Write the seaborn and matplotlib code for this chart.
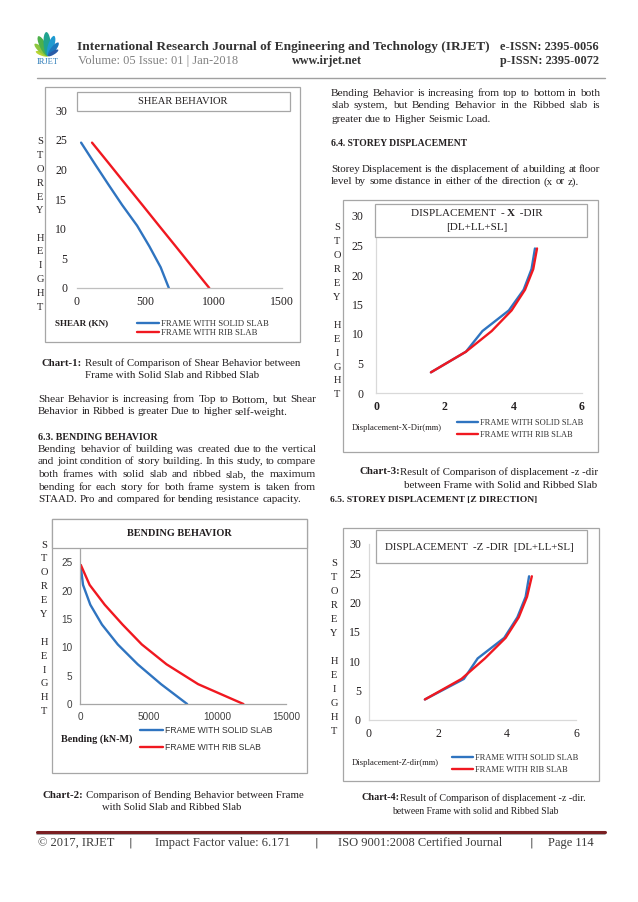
import seaborn as sns
import matplotlib.pyplot as plt
import numpy as np
import pandas as pd
from matplotlib.patches import Rectangle, Ellipse
from matplotlib.lines import Line2D

W, H = 638, 902

# values (storey height in m)
storey_height = [0, 3.5, 7, 10.5, 14, 17.5, 21, 24.5]
shear_solid = [672, 612, 530, 440, 330, 228, 128, 30]
shear_rib = [968, 845, 723, 600, 478, 355, 233, 110]

bending_solid = [7800, 5900, 4200, 2750, 1600, 750, 220, 40]
bending_rib = [11900, 8600, 6300, 4500, 3100, 1800, 700, 60]

disp_height = [3.5, 7, 10.5, 14, 17.5, 21, 24.5]
disp_x_solid = [1.6, 2.62, 3.1, 3.87, 4.3, 4.53, 4.63]
disp_x_rib = [1.6, 2.62, 3.37, 3.95, 4.34, 4.58, 4.69]
disp_z_solid = [1.62, 2.75, 3.15, 3.92, 4.3, 4.54, 4.64]
disp_z_rib = [1.62, 2.68, 3.36, 3.96, 4.34, 4.58, 4.72]

series_names = ["FRAME WITH SOLID SLAB", "FRAME WITH RIB SLAB"]
shear_ticks = [0, 500, 1000, 1500]
bending_ticks = [0, 5000, 10000, 15000]
disp_ticks = [0, 2, 4, 6]
height_ticks = [0, 5, 10, 15, 20, 25, 30]

BLUE = "#2F74C0"
RED = "#F01820"
INK = "#231F20"
GREY = "#A6A6A6"
SERIF = "Liberation Serif"
SANS = "Liberation Sans"

sns.set_style("white")
plt.rcParams["font.family"] = [SERIF, "DejaVu Serif"]

fig = plt.figure(figsize=(W / 100, H / 100), dpi=100, facecolor="white")
renderer = fig.canvas.get_renderer()


def fx(x):
    return x / W


def fy(y):
    return 1 - y / H


def wid(t):
    return t.get_window_extent(renderer).width


def space_w(size):
    a = fig.text(0, 0, "x x", fontsize=size, family=SERIF)
    b = fig.text(0, 0, "xx", fontsize=size, family=SERIF)
    s = wid(a) - wid(b)
    a.remove()
    b.remove()
    return s


def runs(x, y, parts, size, ha="left", width=None, color=INK, gap=True):
    texts = [fig.text(0, fy(y), s, fontsize=size, fontweight=wt, family=SERIF,
                      color=color, va="center") for s, wt in parts]
    sp = space_w(size) if gap else 0
    widths = [wid(t) for t in texts]
    total = sum(widths) + sp * (len(texts) - 1)
    if width:
        k = width / total
        for t in texts:
            t.set_fontsize(size * k)
        widths = [w * k for w in widths]
        sp *= k
        total = width
    start = {"left": x, "center": x - total / 2, "right": x - total}[ha]
    for t, w in zip(texts, widths):
        t.set_x(fx(start))
        start += w + sp
    return texts


def justify(x0, x1, y, line, size, last=False):
    words = line.split()
    for _ in range(10):
        texts = [fig.text(0, fy(y), w, fontsize=size, family=SERIF, color=INK,
                          va="center") for w in words]
        widths = [wid(t) for t in texts]
        sp = space_w(size)
        g = sp if last else (x1 - x0 - sum(widths)) / (len(words) - 1)
        if g >= 0.75 * sp:
            break
        for t in texts:
            t.remove()
        size *= 0.98
    pos = x0
    for t, w in zip(texts, widths):
        t.set_x(fx(pos))
        pos += w + g


def add_rect(x0, y0, x1, y1, ec=GREY, fc="none", lw=0.9):
    fig.add_artist(Rectangle((fx(x0), fy(y1)), (x1 - x0) / W, (y1 - y0) / H,
                             transform=fig.transFigure, ec=ec, fc=fc, lw=lw))


def add_axes_px(x0, y0, x1, y1):
    ax = fig.add_axes([fx(x0), fy(y1), (x1 - x0) / W, (y1 - y0) / H])
    ax.patch.set_alpha(0)
    return ax


def plot_pair(ax, solid, rib, heights, lw=1.7):
    df = pd.DataFrame({
        "value": list(solid) + list(rib),
        "height": list(heights) * 2,
        "frame": [series_names[0]] * len(heights) + [series_names[1]] * len(heights),
    })
    sns.lineplot(data=df, x="value", y="height", hue="frame", palette=[BLUE, RED],
                 sort=False, estimator=None, lw=lw, ax=ax, legend=False)
    ax.set_xlabel("")
    ax.set_ylabel("")


def style_axes(ax, xlim, ylim, xticks, yticks, size, family, xpad, ypad,
               xweight="normal", left=True, color=INK, spine="#BFBFBF"):
    ax.set_xlim(*xlim)
    ax.set_ylim(*ylim)
    ax.set_xticks(xticks)
    ax.set_yticks(yticks)
    ax.tick_params(axis="x", length=0, pad=xpad, labelsize=size, colors=color)
    ax.tick_params(axis="y", length=0, pad=ypad, labelsize=size, colors=color)
    plt.setp(ax.get_xticklabels(), family=family, fontweight=xweight)
    plt.setp(ax.get_yticklabels(), family=family)
    for s in ["top", "right"]:
        ax.spines[s].set_visible(False)
    ax.spines["left"].set_visible(left)
    ax.spines["left"].set_color(spine)
    ax.spines["bottom"].set_color(spine)
    ax.spines["left"].set_linewidth(0.9)
    ax.spines["bottom"].set_linewidth(0.9)
    ax.grid(False)


def storey_letters(x, y_top, step, size=7.5):
    for i, ch in enumerate("STOREY HEIGHT"):
        if ch != " ":
            fig.text(fx(x), fy(y_top + i * step), ch, ha="center", va="center",
                     family=SERIF, fontsize=size, color=INK)


def add_legend(ax, x, y_mid, size, spacing, family, hl=2.5):
    fig.legend(ax.get_lines()[:2], series_names, loc="center left",
               bbox_to_anchor=(fx(x), fy(y_mid)), frameon=False, borderpad=0,
               borderaxespad=0, handlelength=hl, handletextpad=0.25,
               labelspacing=spacing, prop={"family": family, "size": size},
               labelcolor="#333333")


# ---------------- header ----------------
logo = fig.add_axes([fx(32), fy(59), 34 / W, 27 / H])
logo.set_xlim(0, 34)
logo.set_ylim(0, 27)
logo.axis("off")
leaf_angles = [160, 138, 116, 94, 73, 52, 31]
leaf_len = [13, 18, 22, 24, 21, 17, 12]
leaf_cols = ["#B8D432", "#8DC63F", "#4DB04A", "#1FA38F", "#1E9AD0", "#1B78BE", "#2A5CA8"]
for a, L, c in zip(leaf_angles, leaf_len, leaf_cols):
    r = np.radians(a)
    cx, cy = 16 + np.cos(r) * L / 2, 3 + np.sin(r) * L / 2
    logo.add_patch(Ellipse((cx, cy), L, L * 0.3, angle=a, color=c, lw=0))
fig.text(fx(48), fy(61.5), "IRJET", ha="center", va="center", family=SERIF,
         fontsize=6, color="#2A7AB8")

runs(77, 47, [("International Research Journal of Engineering and Technology (IRJET)", "bold")],
     10, width=413, color="#333333")
runs(500, 47, [("e-ISSN: 2395-0056", "bold")], 8, width=98, color="#333333")
runs(78, 61, [("Volume: 05 Issue: 01 | Jan-2018", "normal")], 8, width=160, color="#808080")
runs(292, 61, [("www.irjet.net", "bold")], 8, width=70, color="#333333")
runs(500, 61, [("p-ISSN: 2395-0072", "bold")], 8, width=98, color="#333333")
fig.add_artist(Line2D([fx(37), fx(605)], [fy(78), fy(78)], transform=fig.transFigure,
                      color="#A0A0A0", lw=1.0))

# ---------------- chart 1 : shear ----------------
add_rect(45, 87, 300, 342)
ax1 = add_axes_px(77, 110, 282, 288)
plot_pair(ax1, shear_solid, shear_rib, storey_height)
style_axes(ax1, (0, 1500), (0, 30), shear_ticks, height_ticks, 8.5, SERIF, 6, 7, left=False)
add_rect(77, 92, 290, 111, fc="white")
fig.text(fx(183), fy(101.5), "SHEAR BEHAVIOR", ha="center", va="center", family=SERIF,
         fontsize=7.6, color=INK)
storey_letters(40, 142, 13.75)
fig.text(fx(55), fy(323), "SHEAR (KN)", ha="left", va="center", family=SERIF,
         fontsize=6.6, fontweight="bold", color=INK)
add_legend(ax1, 137, 328.5, 6.3, 0.15, SERIF)

# ---------------- chart 2 : bending ----------------
add_rect(52, 519, 307, 773)
ax2 = add_axes_px(80, 548, 286, 704)
plot_pair(ax2, bending_solid, bending_rib, storey_height)
style_axes(ax2, (0, 15000), (0, 27.5), bending_ticks, height_ticks[:-1], 7.2, SANS, 6.0, 5.5,
           color="#404040", spine="#A6A6A6")
add_rect(52, 519, 307, 548, fc="white")
fig.text(fx(179), fy(534), "BENDING BEHAVIOR", ha="center", va="center", family=SERIF,
         fontsize=7.4, fontweight="bold", color=INK)
storey_letters(44, 545, 13.9)
fig.text(fx(61), fy(739), "Bending (kN-M)", ha="left", va="center", family=SERIF,
         fontsize=7.3, fontweight="bold", color=INK)
add_legend(ax2, 140, 739, 6.2, 0.85, SANS, hl=2.7)

# ---------------- chart 3 : displacement X ----------------
add_rect(343, 200, 598, 452)
ax3 = add_axes_px(376, 216, 582, 393)
plot_pair(ax3, disp_x_solid, disp_x_rib, disp_height)
style_axes(ax3, (0, 6), (0, 30), disp_ticks, height_ticks, 8.5, SERIF, 6, 9, xweight="bold",
           spine="#D9D9D9")
add_rect(375, 204, 587, 237, fc="white")
t3 = [fig.text(0, fy(214), s, family=SERIF, fontsize=8.0, fontweight=wt, color=INK, va="center")
      for s, wt in [("DISPLACEMENT  -", "normal"), ("X", "bold"), (" -DIR", "normal")]]
w3 = [wid(t) for t in t3]
pos = 477 - (sum(w3) + 4) / 2
for t, w in zip(t3, w3):
    t.set_x(fx(pos))
    pos += w + 2
fig.text(fx(477), fy(228), "[DL+LL+SL]", ha="center", va="center", family=SERIF,
         fontsize=8.0, color=INK)
storey_letters(337, 228, 13.9)
fig.text(fx(352), fy(428), "Displacement-X-Dir(mm)", ha="left", va="center", family=SERIF,
         fontsize=6.2, color=INK)
add_legend(ax3, 457, 429, 6.0, 0.5, SERIF)

# ---------------- chart 4 : displacement Z ----------------
add_rect(343, 528, 599, 781)
ax4 = add_axes_px(369, 544, 576, 720)
plot_pair(ax4, disp_z_solid, disp_z_rib, disp_height)
style_axes(ax4, (0, 6), (0, 30), disp_ticks, height_ticks, 8.5, SERIF, 6, 5.8,
           spine="#D9D9D9")
add_rect(376, 530, 587, 563, fc="white")
fig.text(fx(479), fy(548), "DISPLACEMENT  -Z -DIR  [DL+LL+SL]", ha="center", va="center",
         family=SERIF, fontsize=7.8, color=INK)
storey_letters(334, 564, 14)
fig.text(fx(352), fy(763), "Displacement-Z-dir(mm)", ha="left", va="center", family=SERIF,
         fontsize=6.2, color=INK)
add_legend(ax4, 452, 764, 6.0, 0.5, SERIF)

# ---------------- body text ----------------
BS = 8.2
runs(172, 363, [("Chart-1:", "bold"), ("Result of Comparison of Shear Behavior between", "normal")],
     7, ha="center", width=261)
runs(172, 375, [("Frame with Solid Slab and Ribbed Slab", "normal")], 7, ha="center", width=174)

justify(38, 316, 400, "Shear Behavior is increasing from Top to Bottom, but Shear", BS)
justify(38, 316, 412, "Behavior in Ribbed is greater Due to higher self-weight.", 7.9, last=True)
runs(38, 438, [("6.3. BENDING BEHAVIOR", "bold")], 7, width=120)
left_par = [
    "Bending behavior of building was created due to the vertical",
    "and joint condition of story building. In this study, to compare",
    "both frames with solid slab and ribbed slab, the maximum",
    "bending for each story for both frame system is taken from",
    "STAAD. Pro and compared for bending resistance capacity.",
]
for i, line in enumerate(left_par):
    last = i == len(left_par) - 1
    justify(38, 316, 449.5 + i * 12.5, line, 7.9 if last else BS, last=last)

right_par1 = [
    "Bending Behavior is increasing from top to bottom in both",
    "slab system, but Bending Behavior in the Ribbed slab is",
    "greater due to Higher Seismic Load.",
]
for i, line in enumerate(right_par1):
    justify(331, 600, 93 + i * 13, line, 7.9 if i == 2 else BS, last=(i == 2))
runs(331, 144, [("6.4. STOREY DISPLACEMENT", "bold")], 7, width=137)
justify(331, 600, 170, "Storey Displacement is the displacement of a building at floor", BS)
justify(331, 600, 182, "level by some distance in either of the direction (x or z).", 7.9, last=True)

runs(600, 472, [("Chart-3:", "bold"), ("Result of Comparison of displacement -z -dir", "normal")],
     7, ha="right", width=241, gap=False)
runs(600, 485, [("between Frame with Solid and Ribbed Slab", "normal")], 7, ha="right", width=196)
runs(330, 500, [("6.5. STOREY DISPLACEMENT [Z DIRECTION]", "bold")], 7, width=207)

runs(174, 795, [("Chart-2:", "bold"), ("Comparison of Bending Behavior between Frame", "normal")],
     7, ha="center", width=263)
runs(172, 807, [("with Solid Slab and Ribbed Slab", "normal")], 7, ha="center", width=141)
runs(475, 798, [("Chart-4:", "bold"), ("Result of Comparison of displacement -z -dir.", "normal")],
     7, ha="center", width=226, gap=False)
runs(476, 811, [("between Frame with solid and Ribbed Slab", "normal")], 7, ha="center", width=168)

# ---------------- footer ----------------
fig.add_artist(Line2D([fx(37), fx(605)], [fy(833.5), fy(833.5)], transform=fig.transFigure,
                      color="#9A9A9A", lw=1.2))
fig.add_artist(Line2D([fx(37), fx(605)], [fy(832), fy(832)], transform=fig.transFigure,
                      color="#7A1F22", lw=2.2))
foot_x = [38, 155, 338, 548]
foot_text = ["© 2017, IRJET", "Impact Factor value: 6.171",
             "ISO 9001:2008 Certified Journal", "Page 114"]
for x0, s in zip(foot_x, foot_text):
    fig.text(fx(x0), fy(843), s, ha="left", va="center", family=SERIF, fontsize=9,
             color="#3A3A3A")
for xb in [130, 316, 531]:
    fig.text(fx(xb), fy(843), "|", ha="center", va="center", family="DejaVu Sans", fontsize=8,
             color="#3A3A3A")

fig.savefig("out.png", dpi=100, facecolor="white")
